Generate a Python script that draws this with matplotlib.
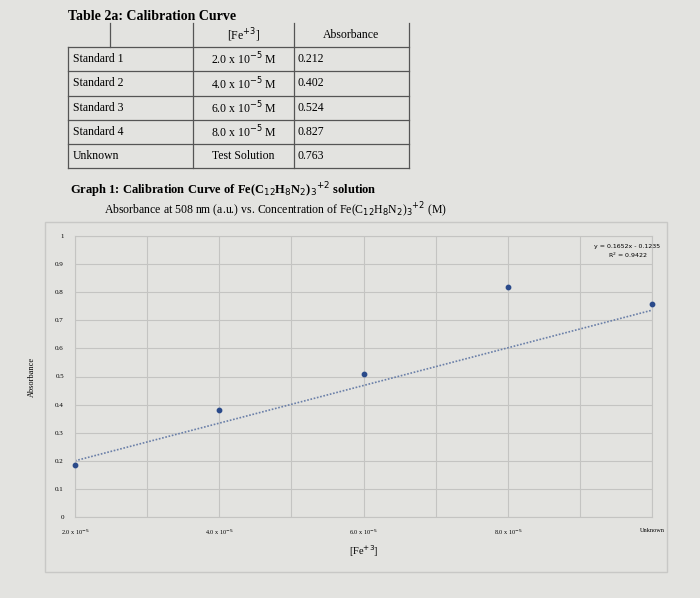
import matplotlib
matplotlib.use("Agg")
import matplotlib.pyplot as plt
import numpy as np

row_names = ["Standard 1", "Standard 2", "Standard 3", "Standard 4", "Unknown"]
conc_labels = ["2.0 x 10$^{-5}$ M", "4.0 x 10$^{-5}$ M", "6.0 x 10$^{-5}$ M", "8.0 x 10$^{-5}$ M", "Test Solution"]
absorb = [0.212, 0.402, 0.524, 0.827, 0.763]
x_tick_labels = ["2.0 x 10$^{-5}$", "4.0 x 10$^{-5}$", "6.0 x 10$^{-5}$", "8.0 x 10$^{-5}$", "Unknown"]
plot_points = [0.185, 0.38, 0.509, 0.82, 0.758]
trend_slope = 0.134
trend_intercept = 0.20

W, H = 700, 598
bg = "#e3e3e0"
fig = plt.figure(figsize=(W/100, H/100), dpi=100, facecolor=bg)
plt.rcParams['font.family'] = ['Liberation Serif', 'DejaVu Serif']

ov = fig.add_axes([0, 0, 1, 1], facecolor='none')
ov.set_xlim(0, W); ov.set_ylim(H, 0); ov.axis('off')

ov.text(68, 16, "Table 2a: Calibration Curve", fontsize=10, fontweight='bold', va='center')
cx = [68, 193, 294, 409]
ry = [23, 47, 71, 96, 120, 144, 168]
lc = "#555555"
for y in ry[1:]:
    ov.plot([cx[0], cx[3]], [y, y], color=lc, lw=0.9)
ov.plot([cx[3], cx[3]], [ry[0], ry[-1]], color=lc, lw=0.9)
ov.plot([cx[0], cx[0]], [ry[1], ry[-1]], color=lc, lw=0.9)
ov.plot([110, 110], [ry[0], ry[1]], color=lc, lw=0.9)
for x in cx[1:3]:
    ov.plot([x, x], [ry[0], ry[-1]], color=lc, lw=0.9)
ov.text((cx[1]+cx[2])/2, 35, "[Fe$^{+3}$]", fontsize=8.5, ha='center', va='center')
ov.text((cx[2]+cx[3])/2, 35, "Absorbance", fontsize=8.5, ha='center', va='center')
for i in range(5):
    yc = (ry[i+1]+ry[i+2])/2
    ov.text(cx[0]+5, yc, row_names[i], fontsize=8.5, va='center')
    ov.text((cx[1]+cx[2])/2, yc, conc_labels[i], fontsize=8.5, ha='center', va='center')
    ov.text(cx[2]+4, yc, f"{absorb[i]:.3f}", fontsize=8.5, va='center')

ov.text(70, 190, "Graph 1: Calibration Curve of Fe(C$_{12}$H$_8$N$_2$)$_3$$^{+2}$ solution",
        fontsize=9, fontweight='bold', va='center')
ov.text(104, 210, "Absorbance at 508 nm (a.u.) vs. Concentration of Fe(C$_{12}$H$_8$N$_2$)$_3$$^{+2}$ (M)",
        fontsize=8.5, va='center')
ov.add_patch(plt.Rectangle((45, 222), 622, 350, fill=False, ec="#c8c8c6", lw=1))

ax = fig.add_axes([75/W, 1-517/H, (652-75)/W, (517-236)/H], facecolor=bg)
xs = np.arange(len(plot_points))
ax.set_xlim(0, 4); ax.set_ylim(0, 1)
ax.set_xticks(xs); ax.set_xticklabels(x_tick_labels, fontsize=4.5)
ax.set_xticks(np.arange(0, 4.01, 0.5), minor=True)
ax.set_yticks(np.arange(0, 1.01, 0.1))
ax.set_yticklabels(["0"] + [f"{v:.1f}" for v in np.arange(0.1, 0.95, 0.1)] + ["1"], fontsize=5)
ax.grid(True, which='both', color="#c4c4c2", lw=0.8)
ax.tick_params(which='both', length=0, pad=8)
for s in ax.spines.values():
    s.set_color("#c4c4c2")
ax.scatter(xs, plot_points, s=10, color="#2a4a8a", zorder=3, clip_on=False)
tx = np.array([0, 4])
ax.plot(tx, trend_slope*tx + trend_intercept, ls=(0, (1, 1)), color="#6a7fa8", lw=1.2)
ax.text(3.83, 0.97, "y = 0.1652x - 0.1235\nR$^2$ = 0.9422", fontsize=4.5,
        ha='center', va='top', family=['DejaVu Sans'])
ax.set_xlabel("[Fe$^{+3}$]", fontsize=7.5, labelpad=4)
ax.set_ylabel("Absorbance", fontsize=6, labelpad=14)

fig.savefig("out.png", dpi=100, facecolor=bg)
